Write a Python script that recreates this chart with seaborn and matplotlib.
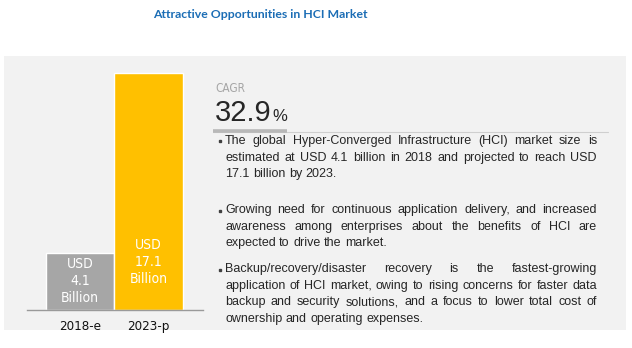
import matplotlib
matplotlib.use('Agg')
import matplotlib.pyplot as plt
import seaborn as sns
import pandas as pd
from matplotlib.patches import Rectangle
from matplotlib.lines import Line2D

# ---- data ----
years = ['2018-e', '2023-p']
market_size = [4.1, 17.1]
bar_labels = ['USD\n4.1\nBillion', 'USD\n17.1\nBillion']
bar_colors = ['#a6a6a6', '#ffc000']
cagr_value = '32.9'
title_text = 'Attractive Opportunities in HCI Market'
para1 = ["The global Hyper-Converged Infrastructure (HCI) market size is",
         "estimated at USD 4.1 billion in 2018 and projected to reach USD",
         "17.1 billion by 2023."]
para2 = ["Growing need for continuous application delivery, and increased",
         "awareness among enterprises about the benefits of HCI are",
         "expected to drive the market."]
para3 = ["Backup/recovery/disaster recovery is the fastest-growing",
         "application of HCI market, owing to rising concerns for faster data",
         "backup and security solutions, and a focus to lower total cost of",
         "ownership and operating expenses."]

W, H = 632, 348
sns.set_theme(style='white')
plt.rcParams['font.family'] = ['Liberation Sans', 'DejaVu Sans']

fig = plt.figure(figsize=(W / 100, H / 100), dpi=100)
fig.patch.set_facecolor('white')
NARROW = dict(family=['DejaVu Sans'], fontstretch='condensed')


def fx(x):
    return x / W


def fy(y):
    return 1 - y / H


# background panel
fig.add_artist(Rectangle((fx(4), fy(330)), (626 - 4) / W, (330 - 56) / H,
                         transform=fig.transFigure, facecolor='#f2f2f2',
                         edgecolor='none', zorder=0))

# title
fig.text(fx(260), fy(14), title_text, ha='center', va='center',
         fontsize=8.8, fontweight='bold', color='#1b6db5',
         family=['Lato', 'DejaVu Sans'])

# bar chart
ax = fig.add_axes([fx(27), 1 - 310 / H, 176 / W, 249 / H])
df = pd.DataFrame({'year': years, 'value': market_size})
sns.barplot(data=df, x='year', y='value', hue='year', palette=bar_colors,
            width=1.0, saturation=1, legend=False, ax=ax)
ax.set_facecolor('none')
ax.set_xlim(-0.78, 1.8)
ax.set_ylim(0, 18)
for s in ['top', 'right', 'left']:
    ax.spines[s].set_visible(False)
ax.spines['bottom'].set_color('#9a9a9a')
ax.spines['bottom'].set_linewidth(1)
ax.set_yticks([])
ax.set_xlabel('')
ax.set_ylabel('')
ax.tick_params(axis='x', length=0, pad=7, labelsize=9.5, labelcolor='#111111')
for lab in ax.get_xticklabels():
    lab.set_family(['DejaVu Sans'])
    lab.set_fontstretch('condensed')
label_y = [2.1, 3.47]
for i, (lab, yv) in enumerate(zip(bar_labels, label_y)):
    ax.text(i, yv, lab, ha='center', va='center', color='white', fontsize=10,
            linespacing=1.25, **NARROW)

# CAGR block
fig.text(fx(215), fy(88), 'CAGR', ha='left', va='center', fontsize=8.5,
         color='#a6a6a6', **NARROW)
big = fig.text(fx(215), fy(121), cagr_value, ha='left', va='baseline',
               fontsize=21, color='#262626')
renderer = fig.canvas.get_renderer()
bw = big.get_window_extent(renderer).width
fig.text(fx(215 + bw + 1), fy(121), '%', ha='left', va='baseline',
         fontsize=12, color='#262626')
fig.add_artist(Line2D([fx(213), fx(608)], [fy(131.5), fy(131.5)],
                      transform=fig.transFigure, color='#cfcfcf', lw=0.8))
fig.add_artist(Line2D([fx(213), fx(287)], [fy(130.5), fy(130.5)],
                      transform=fig.transFigure, color='#b8b8b8', lw=2.6,
                      solid_capstyle='butt'))

# justified bullet text
X0, X1 = 225, 597
FS = 9
TXT = '#262626'


def measure(s):
    t = fig.text(0, 0, s, fontsize=FS)
    w = t.get_window_extent(renderer).width
    t.remove()
    return w


space_w = measure('a a') - measure('aa')


def draw_line(line, y, justify):
    words = line.split(' ')
    widths = [measure(w) for w in words]
    if justify and len(words) > 1:
        gap = (X1 - X0 - sum(widths)) / (len(words) - 1)
    else:
        gap = space_w
    x = X0
    for w, wd in zip(words, widths):
        fig.text(fx(x), fy(y), w, fontsize=FS, color=TXT, ha='left',
                 va='center')
        x += wd + gap


def draw_para(lines, y0, dy=16.7):
    fig.add_artist(Line2D([fx(220)], [fy(y0 + 0.5)], transform=fig.transFigure,
                          marker='s', ms=2.1, color='#404040', lw=0))
    for k, line in enumerate(lines):
        draw_line(line, y0 + k * dy, justify=(k < len(lines) - 1))


draw_para(para1, 141)
draw_para(para2, 210)
draw_para(para3, 269)

fig.savefig('out.png', dpi=100)
